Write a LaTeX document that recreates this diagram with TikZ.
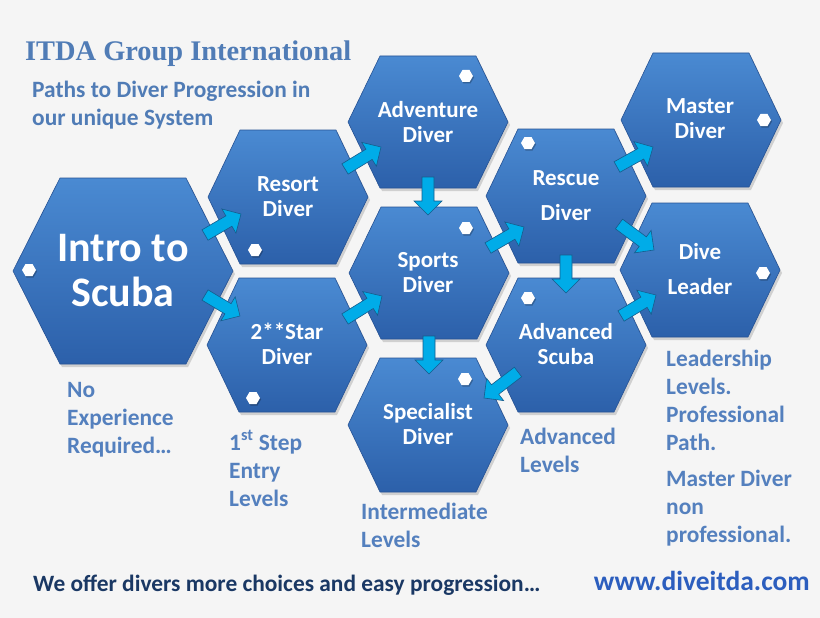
\documentclass[tikz,border=0pt]{standalone}
\usepackage{fontspec}
\setmainfont{Carlito}
\newfontfamily\serifbold{Liberation Serif}
\usetikzlibrary{calc}
\definecolor{bg}{RGB}{245,245,245}
\definecolor{hextop}{RGB}{74,138,210}
\definecolor{hexbot}{RGB}{44,96,170}
\definecolor{hexedge}{RGB}{38,82,148}
\definecolor{arrowfill}{RGB}{0,172,232}
\definecolor{arrowedge}{RGB}{22,92,140}
\definecolor{labelc}{RGB}{84,128,190}
\definecolor{titlec}{RGB}{80,124,182}
\definecolor{navy}{RGB}{26,56,100}
\definecolor{webc}{RGB}{44,94,190}
\tikzset{
  hexbody/.style={top color=hextop, bottom color=hexbot, draw=hexedge, line width=0.6pt},
  hexshadow/.style={fill=black, opacity=0.15},
  hexlabel/.style={text=white, font=\bfseries\fontsize{23}{25}\selectfont, align=center, inner sep=0pt},
  biglabel/.style={text=white, font=\bfseries\fontsize{42}{45}\selectfont, align=center, inner sep=0pt},
  sidelabel/.style={text=labelc, font=\bfseries\fontsize{23.4}{28}\selectfont, align=left, anchor=base west, inner sep=0pt},
  pics/barrow/.style={code={
    \filldraw[fill=arrowfill, draw=arrowedge, line width=0.6pt]
      (0,-6) -- (#1-14,-6) -- (#1-14,-14) -- (#1,0) -- (#1-14,14) -- (#1-14,6) -- (0,6) -- cycle;
  }}
}
% hexagon: name, cx, cy, half width, half top edge, half height
\newcommand\hexagonshape[6]{%
  \fill[hexshadow, shift={(#2+2,#3+3)}] (-#4,0) -- (-#5,-#6) -- (#5,-#6) -- (#4,0) -- (#5,#6) -- (-#5,#6) -- cycle;
  \path[hexbody, shift={(#2,#3)}] (-#4,0) -- (-#5,-#6) -- (#5,-#6) -- (#4,0) -- (#5,#6) -- (-#5,#6) -- cycle;
  \coordinate (#1) at (#2,#3);
}
\newcommand\dothex[2]{%
  \fill[black, opacity=0.25, shift={(#1+1,#2+1.5)}] (-7,0) -- (-3.5,-6) -- (3.5,-6) -- (7,0) -- (3.5,6) -- (-3.5,6) -- cycle;
  \fill[white, shift={(#1,#2)}] (-7,0) -- (-3.5,-6) -- (3.5,-6) -- (7,0) -- (3.5,6) -- (-3.5,6) -- cycle;
}
\newcommand\flow[2]{%
  \path let \p1=(#1), \p2=(#2), \n1={atan2(\y2-\y1,\x2-\x1)}, \n2={veclen(\x2-\x1,\y2-\y1)} in
    (\p1) pic[rotate=\n1] {barrow=\n2};
}
\begin{document}
\begin{tikzpicture}[x=1pt,y=-1pt]
\fill[bg] (0,0) rectangle (820,618);
\useasboundingbox (0,0) rectangle (820,618);

% hexagons
\hexagonshape{intro}{123}{271}{110}{63}{93}
\hexagonshape{resort}{288}{197}{80}{48}{67}
\hexagonshape{star}{287}{345}{80}{48}{67}
\hexagonshape{adventure}{428}{122}{80}{48}{66}
\hexagonshape{sports}{429}{273}{80}{48}{66}
\hexagonshape{specialist}{428}{425}{80}{48}{67}
\hexagonshape{rescue}{566}{196}{80}{48}{67}
\hexagonshape{advanced}{566}{345}{80}{48}{67}
\hexagonshape{master}{701}{120}{80}{48}{67}
\hexagonshape{leader}{700}{270}{80}{48}{67}

% small white hexagons
\dothex{29}{270}
\dothex{255}{250}
\dothex{466}{76}
\dothex{466}{228}
\dothex{528}{143}
\dothex{764}{120}
\dothex{763}{273}
\dothex{528}{298}
\dothex{253}{398}
\dothex{465}{379}

% hexagon texts
\node[biglabel] (introt) at (123,271) {Intro to\\Scuba};
\node[hexlabel] (resortt) at (288,197) {Resort\\Diver};
\node[hexlabel] (start) at (287,344) {2**Star\\Diver};
\node[hexlabel] (adventuret) at (428,122) {Adventure\\Diver};
\node[hexlabel] (sportst) at (428,273) {Sports\\Diver};
\node[hexlabel] (specialistt) at (428,424) {Specialist\\Diver};
\node[hexlabel] (rescuet) at (566,196) {Rescue\\[10pt]Diver};
\node[hexlabel] (advancedt) at (566,344) {Advanced\\Scuba};
\node[hexlabel] (mastert) at (700,119) {Master\\Diver};
\node[hexlabel] (leadert) at (700,269) {Dive\\[10pt]Leader};

% arrow end points
\coordinate (a1s) at (205,235); \coordinate (a1e) at (241,214);
\coordinate (a2s) at (205,295); \coordinate (a2e) at (240,316);
\coordinate (a3s) at (345,169); \coordinate (a3e) at (381,147);
\coordinate (a4s) at (345,319); \coordinate (a4e) at (382,296);
\coordinate (a5s) at (428,177); \coordinate (a5e) at (428,215);
\coordinate (a6s) at (429,336); \coordinate (a6e) at (429,374);
\coordinate (a7s) at (488,248); \coordinate (a7e) at (524,227);
\coordinate (a8s) at (617,167); \coordinate (a8e) at (653,147);
\coordinate (a9s) at (619,224); \coordinate (a9e) at (654,250);
\coordinate (a10s) at (566,255); \coordinate (a10e) at (566,293);
\coordinate (a11s) at (621,316); \coordinate (a11e) at (656,295);
\coordinate (a12s) at (518,372); \coordinate (a12e) at (484,398);
\flow{a1s}{a1e}
\flow{a2s}{a2e}
\flow{a3s}{a3e}
\flow{a4s}{a4e}
\flow{a5s}{a5e}
\flow{a6s}{a6e}
\flow{a7s}{a7e}
\flow{a8s}{a8e}
\flow{a9s}{a9e}
\flow{a10s}{a10e}
\flow{a11s}{a11e}
\flow{a12s}{a12e}

% titles
\node[anchor=base west, inner sep=0pt, text=titlec, font=\serifbold\bfseries\fontsize{28.4}{30}\selectfont] (title) at (25,61) {ITDA Group International};
\node[sidelabel, text=titlec] (sub1) at (32,125) {Paths to Diver Progression in\\our unique System};

% side labels (anchored at the baseline of the last line)
\node[sidelabel] (lab1) at (67,453) {No\\Experience\\Required\dots};
\node[sidelabel] (lab2) at (229,506) {1\textsuperscript{st} Step\\Entry\\Levels};
\node[sidelabel] (lab3) at (361,547) {Intermediate\\Levels};
\node[sidelabel] (lab4) at (520,472) {Advanced\\Levels};
\node[sidelabel] (lab5) at (666,450) {Leadership\\Levels.\\Professional\\Path.};
\node[sidelabel] (lab6) at (666,542) {Master Diver\\non\\professional.};

% footer
\node[anchor=base west, inner sep=0pt, text=navy, font=\bfseries\fontsize{23.4}{25}\selectfont] (foot) at (33,591) {We offer divers more choices and easy progression\dots};
\node[anchor=base east, inner sep=0pt, text=webc, font=\bfseries\fontsize{27.5}{30}\selectfont] (web) at (810,590) {www.diveitda.com};
\end{tikzpicture}
\end{document}
